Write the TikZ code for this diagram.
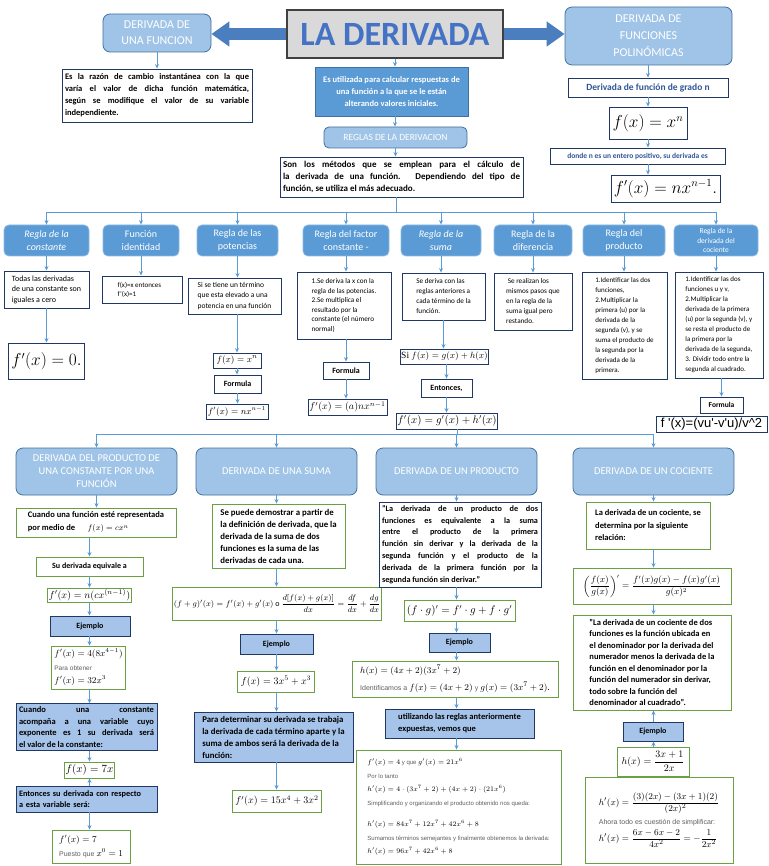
\documentclass[tikz,border=0pt]{standalone}
\usepackage{amsmath}
\usepackage[no-math]{fontspec}
\setmainfont{Carlito}
\newfontfamily\arialf{Liberation Sans}
\newfontfamily\timesf{Liberation Serif}
\usetikzlibrary{arrows.meta}

\definecolor{lblue}{RGB}{160,196,232}
\definecolor{lborder}{RGB}{65,113,156}
\definecolor{mblue}{RGB}{91,155,213}
\definecolor{navyline}{RGB}{32,56,100}
\definecolor{grn}{RGB}{106,160,66}
\definecolor{efill}{RGB}{166,196,234}
\definecolor{fatblue}{RGB}{74,126,191}
\definecolor{titleblue}{RGB}{68,114,196}
\definecolor{txtblue}{RGB}{47,85,151}
\definecolor{gtext}{RGB}{95,95,95}
\definecolor{tgray}{RGB}{217,217,217}

\newcommand{\grtext}[2]{{\arialf\color{gtext}\fontsize{#1}{#1}\selectfont #2}}

\begin{document}
\begin{tikzpicture}[x=1pt,y=-1pt,
    every node/.style={inner sep=3pt},
    >={Stealth[length=4.5pt,width=4pt]},
    conn/.style={color=mblue,line width=0.9pt},
    fat/.style={draw=fatblue,line width=12pt,-{Triangle[length=18pt,width=24pt]}},
    lightbox/.style={rounded corners=7pt,fill=lblue,draw=lborder,line width=0.8pt,text=white,align=center},
    rulebox/.style={rounded corners=5pt,fill=mblue,draw=mblue!70!white,line width=0.8pt,text=white,align=center,minimum height=31pt},
    navybox/.style={draw=navyline,line width=0.9pt,fill=white},
    greenbox/.style={draw=grn,line width=0.9pt,fill=white},
    bluebox/.style={draw=navyline,line width=0.9pt,fill=efill},
    exbox/.style={bluebox,font=\fontsize{8}{10}\selectfont\bfseries}]
\useasboundingbox (0,0) rectangle (768,866);

% top row
\node[lightbox,minimum width=108pt,minimum height=38pt,font=\fontsize{12}{16}\selectfont] (fun) at (157,33) {DERIVADA DE\\UNA FUNCION};
\node[draw=black!75,line width=1.2pt,fill=tgray,minimum width=216pt,minimum height=48pt,text=titleblue,font=\fontsize{34}{34}\selectfont\bfseries] (title) at (395,34) {LA DERIVADA};
\node[lightbox,minimum width=167pt,minimum height=58pt,font=\fontsize{12}{17}\selectfont] (pol) at (648.5,36) {DERIVADA DE\\FUNCIONES\\POLINÓMICAS};
\draw[fat] (title.west) -- (title.west -| fun.east);
\draw[fat] (title.east) -- (title.east -| pol.west);

\node[navybox,text width=184pt,minimum height=53pt,align=justify,font=\fontsize{8.5}{12}\selectfont\bfseries] (razon) at (157,95.5) {Es la razón de cambio instantánea con la que\linebreak varía el valor de dicha función matemática,\linebreak según se modifique el valor de su variable\linebreak independiente.};
\node[fill=mblue,draw=lborder,line width=0.8pt,text=white,align=center,minimum width=153pt,minimum height=49pt,font=\fontsize{8.5}{12}\selectfont\bfseries] (use) at (391.5,91.5) {Es utilizada para calcular respuestas de\\una función a la que se le están\\alterando valores iniciales.};
\node[lightbox,rounded corners=5pt,minimum width=143pt,minimum height=21pt,font=\fontsize{9.5}{11}\selectfont] (reglas) at (395.5,137.5) {REGLAS DE LA DERIVACION};
\node[navybox,text width=237pt,minimum height=40pt,align=justify,font=\fontsize{9}{12}\selectfont\bfseries] (metodos) at (401.5,177) {Son los métodos que se emplean para el cálculo de\linebreak la derivada de una función. Dependiendo del tipo de\linebreak función, se utiliza el más adecuado.};

% polinomicas
\node[navybox,minimum width=160pt,minimum height=19pt,text=txtblue,font=\fontsize{9.5}{11}\selectfont\bfseries] (grado) at (648,87.5) {Derivada de función de grado n};
\node[navybox,minimum width=78pt,minimum height=32pt,font=\fontsize{16}{18}\selectfont] (fxn) at (648,123) {$f(x)=x^n$};
\node[navybox,minimum width=175pt,minimum height=16pt,inner sep=1pt,text=txtblue,font=\fontsize{7.5}{9}\selectfont\bfseries] (donde) at (637.5,156) {donde n es un entero positivo, su derivada es};
\node[navybox,minimum width=109pt,minimum height=27pt,font=\fontsize{16}{18}\selectfont] (fpn) at (665.5,188.5) {$f'(x)=nx^{n-1}.$};

% reglas
\node[rulebox,minimum width=85pt,font=\fontsize{10}{13}\selectfont\itshape] (r1) at (46.5,240.5) {Regla de la\\constante};
\node[rulebox,minimum width=76pt,font=\fontsize{10}{13}\selectfont] (r2) at (141,240.5) {Función\\identidad};
\node[rulebox,minimum width=81pt,font=\fontsize{10}{13}\selectfont] (r3) at (237.5,240.5) {Regla de las\\potencias};
\node[rulebox,minimum width=86pt,font=\fontsize{10}{13}\selectfont] (r4) at (346,240.5) {Regla del factor\\constante -};
\node[rulebox,minimum width=80pt,font=\fontsize{10}{13}\selectfont\itshape] (r5) at (441,240.5) {Regla de la\\suma};
\node[rulebox,minimum width=78pt,font=\fontsize{10}{13}\selectfont] (r6) at (533,240.5) {Regla de la\\diferencia};
\node[rulebox,minimum width=82pt,font=\fontsize{10}{13}\selectfont] (r7) at (624,240.5) {Regla del\\producto};
\node[rulebox,minimum width=84pt,inner sep=1pt,font=\fontsize{7.5}{9.5}\selectfont] (r8) at (716,240.5) {Regla de la\\derivada del\\cociente};

\node[navybox,align=left,minimum width=85pt,minimum height=37pt,font=\fontsize{8}{10.5}\selectfont] (d1) at (46.5,289.5) {Todas las derivadas\\de una constante son\\iguales a cero};
\node[navybox,minimum width=73pt,minimum height=36pt,font=\fontsize{16}{18}\selectfont] (d1f) at (46.5,361) {$f'(x)=0.$};
\node[navybox,align=left,minimum width=80pt,minimum height=27pt,font=\fontsize{7}{9}\selectfont] (d2) at (142,289.5) {f(x)=x entonces\\f'(x)=1\hspace*{30pt}};
\node[navybox,align=left,minimum width=93pt,minimum height=36pt,font=\fontsize{7.5}{10.5}\selectfont] (d3) at (234.5,296) {Si se tiene un término\\que esta elevado a una\\potencia en una función};
\node[navybox,minimum width=48pt,minimum height=15pt,inner sep=1pt,font=\fontsize{9.5}{11}\selectfont] (d3a) at (237,360.5) {$f(x)=x^n$};
\node[navybox,minimum width=47pt,minimum height=18pt,font=\fontsize{8}{10}\selectfont\bfseries] (d3b) at (237.5,384) {Formula};
\node[navybox,minimum width=62pt,minimum height=15pt,inner sep=1pt,font=\fontsize{9}{11}\selectfont] (d3c) at (237,411.5) {$f'(x)=nx^{n-1}$};
\node[navybox,align=left,minimum width=94pt,minimum height=67pt,font=\fontsize{7.2}{9.5}\selectfont] (d4) at (344,305.5) {1.Se deriva la x con la\\regla de las potencias.\\2.Se multiplica el\\resultado por la\\constante (el número\\normal)};
\node[navybox,minimum width=46pt,minimum height=17pt,font=\fontsize{8}{10}\selectfont\bfseries] (d4a) at (346,370.5) {Formula};
\node[navybox,minimum width=79pt,minimum height=16pt,inner sep=1pt,font=\fontsize{10}{12}\selectfont] (d4b) at (347.5,407) {$f'(x)=(a)nx^{n-1}$};
\node[navybox,align=left,minimum width=83pt,minimum height=47pt,font=\fontsize{7.2}{10}\selectfont] (d5) at (443.5,296.5) {Se deriva con las\\reglas anteriores a\\cada término de la\\función.};
\node[navybox,minimum width=85pt,minimum height=15pt,inner sep=1pt,font=\fontsize{9.5}{11}\selectfont] (d5a) at (444.5,356.5) {{\timesf Si} $f(x)=g(x)+h(x)$};
\node[navybox,minimum width=51pt,minimum height=18pt,font=\fontsize{8}{10}\selectfont\bfseries] (d5b) at (446.5,388) {Entonces,};
\node[navybox,minimum width=94pt,minimum height=16pt,inner sep=1pt,font=\fontsize{10.5}{12}\selectfont] (d5c) at (447,421) {$f'(x)=g'(x)+h'(x)$};
\node[navybox,align=left,minimum width=78pt,minimum height=57pt,font=\fontsize{7.2}{10}\selectfont] (d6) at (533,301.5) {\ Se realizan los\\mismos pasos que\\en la regla de la\\suma igual pero\\restando.};
\node[navybox,align=left,minimum width=85pt,minimum height=107pt,font=\fontsize{7}{10}\selectfont] (d7) at (624.5,325.5) {1.Identificar las dos\\funciones,\\2.Multiplicar la\\primera (u) por la\\derivada de la\\segunda (v), y se\\suma el producto de\\la segunda por la\\derivada de la\\primera.};
\node[navybox,align=left,minimum width=88pt,minimum height=106pt,font=\fontsize{7}{10}\selectfont] (d8) at (719,325) {1.Identificar las dos\\funciones u y v,\\2.Multiplicar la\\derivada de la primera\\(u) por la segunda (v), y\\se resta el producto de\\la primera por la\\derivada de la segunda,\\3. Dividir todo entre la\\segunda al cuadrado.};
\node[navybox,minimum width=43pt,minimum height=16pt,inner sep=1pt,font=\fontsize{7.5}{9}\selectfont\bfseries] (d8a) at (721.5,405) {Formula};
\node[navybox,minimum width=111pt,minimum height=16pt,inner sep=1pt,font=\arialf\fontsize{13}{14}\selectfont] (d8b) at (711.5,424) {f \textquotesingle(x)=(vu\textquotesingle-v\textquotesingle u)/v\textasciicircum 2};

% derivadas
\node[lightbox,minimum width=161pt,minimum height=47pt,font=\fontsize{10.5}{13}\selectfont] (sA) at (96.5,471.5) {DERIVADA DEL PRODUCTO DE\\UNA CONSTANTE POR UNA\\FUNCIÓN};
\node[lightbox,minimum width=161pt,minimum height=47pt,font=\fontsize{10.5}{13}\selectfont] (sB) at (276.5,471.5) {DERIVADA DE UNA SUMA};
\node[lightbox,minimum width=161pt,minimum height=47pt,font=\fontsize{10.5}{13}\selectfont] (sC) at (456.5,471.5) {DERIVADA DE UN PRODUCTO};
\node[lightbox,minimum width=161pt,minimum height=47pt,font=\fontsize{10.5}{13}\selectfont] (sD) at (653.5,471.5) {DERIVADA DE UN COCIENTE};

% producto de una constante
\node[greenbox,align=left,minimum width=160pt,minimum height=29pt,font=\fontsize{8.5}{13}\selectfont\bfseries] (a1) at (96,522.5) {Cuando una función esté representada\\por medio de \quad\ $f(x)=cx^n$};
\node[greenbox,minimum width=107pt,minimum height=19pt,font=\fontsize{8}{10}\selectfont\bfseries] (a2) at (89.5,566.5) {Su derivada equivale a};
\node[greenbox,minimum width=83pt,minimum height=14pt,inner sep=1pt,font=\fontsize{10}{12}\selectfont] (a3) at (89.5,595) {$f'(x)=n(cx^{(n-1)})$};
\node[exbox,minimum width=80pt,minimum height=20pt] (a4) at (90,626) {Ejemplo};
\node[greenbox,align=left,minimum width=73pt,minimum height=43pt,font=\fontsize{9}{13.5}\selectfont] (a5) at (88.5,667.5) {$f'(x)=4(8x^{4-1})$\\\grtext{6.5}{Para obtener}\\$f'(x)=32x^3$};
\node[bluebox,text width=135pt,minimum height=46pt,align=justify,font=\fontsize{8.5}{11.5}\selectfont\bfseries] (a6) at (86.5,727) {Cuando una constante\linebreak acompaña a una variable cuyo\linebreak exponente es 1 su derivada será\linebreak el valor de la constante:};
\node[greenbox,minimum width=47pt,minimum height=16pt,inner sep=1pt,font=\fontsize{11}{12}\selectfont] (a7) at (89.5,770) {$f(x)=7x$};
\node[bluebox,text width=135pt,minimum height=26pt,align=left,font=\fontsize{8.3}{11.5}\selectfont\bfseries] (a8) at (86.5,799) {Entonces su derivada con respecto\\a esta variable será:};
\node[greenbox,align=left,minimum width=78pt,minimum height=33pt,font=\fontsize{9}{14}\selectfont] (a9) at (91,846.5) {$f'(x)=7$\\\grtext{7}{Puesto que} $x^0=1$};

% suma
\node[greenbox,align=left,minimum width=133pt,minimum height=64pt,font=\fontsize{8.8}{12}\selectfont\bfseries] (b1) at (278.5,536) {Se puede demostrar a partir de\\la definición de derivada, que la\\derivada de la suma de dos\\funciones es la suma de las\\derivadas de cada una.};
\node[greenbox,minimum width=198pt,minimum height=33pt,inner sep=1pt,font=\fontsize{8}{10}\selectfont] (b2) at (277,603.5) {$(f+g)'(x)=f'(x)+g'(x)$ o $\dfrac{d[f(x)+g(x)]}{dx}=\dfrac{df}{dx}+\dfrac{dg}{dx}$};
\node[exbox,minimum width=73pt,minimum height=20pt] (b3) at (276.5,644) {Ejemplo};
\node[greenbox,minimum width=74pt,minimum height=21pt,font=\fontsize{10}{12}\selectfont] (b4) at (276,681.5) {$f(x)=3x^5+x^3$};
\node[bluebox,align=left,minimum width=159pt,minimum height=50pt,font=\fontsize{8.8}{12}\selectfont\bfseries] (b5) at (273.5,737) {Para determinar su derivada se trabaja\\la derivada de cada término aparte y la\\suma de ambos será la derivada de la\\función:\hspace*{110pt}};
\node[greenbox,minimum width=84pt,minimum height=22pt,font=\fontsize{10}{12}\selectfont] (b6) at (277,801) {$f'(x)=15x^4+3x^2$};

% producto
\node[navybox,text width=156pt,minimum height=85pt,align=justify,font=\fontsize{8.2}{11.8}\selectfont\bfseries] (c1) at (460,544.5) {"La derivada de un producto de dos\linebreak funciones es equivalente a la suma\linebreak entre el producto de la primera\linebreak función sin derivar y la derivada de la\linebreak segunda función y el producto de la\linebreak derivada de la primera función por la\linebreak segunda función sin derivar."};
\node[greenbox,minimum width=101pt,minimum height=21pt,font=\fontsize{10.5}{12}\selectfont] (c2) at (459.5,610.5) {$(f\cdot g)'=f'\cdot g+f\cdot g'$};
\node[exbox,minimum width=61pt,minimum height=19pt] (c3) at (459.5,642.5) {Ejemplo};
\node[greenbox,align=left,minimum width=206pt,minimum height=36pt,font=\fontsize{9.5}{17}\selectfont] (c4) at (455,679) {$h(x)=(4x+2)(3x^7+2)$\\\grtext{7}{Identificamos a} $f(x)=(4x+2)$ \grtext{7}{y} $g(x)=(3x^7+2)$.};
\node[bluebox,align=left,minimum width=149pt,minimum height=29pt,font=\fontsize{8.5}{12}\selectfont\bfseries] (c5) at (459.5,723.5) {utilizando las reglas anteriormente\\expuestas, vemos que};
\node[greenbox,align=left,minimum width=205pt,minimum height=114pt,font=\fontsize{7}{13.5}\selectfont] (c6) at (458.5,807) {$f'(x)=4$ \grtext{6}{y que} $g'(x)=21x^6$\\\grtext{6}{Por lo tanto}\\$h'(x)=4\cdot(3x^7+2)+(4x+2)\cdot(21x^6)$\\\grtext{6}{Simplificando y organizando el producto obtenido nos queda:}\\[8pt]$h'(x)=84x^7+12x^7+42x^6+8$\\\grtext{6}{Sumamos términos semejantes y finalmente obtenemos la derivada:}\\$h'(x)=96x^7+42x^6+8$};

% cociente
\node[greenbox,align=left,minimum width=124pt,minimum height=47pt,font=\fontsize{8.5}{12.5}\selectfont\bfseries] (e1) at (648,525.5) {La derivada de un cociente, se\\determina por la siguiente\\relación:};
\node[greenbox,minimum width=158pt,minimum height=36pt,inner sep=1pt,font=\fontsize{9}{11}\selectfont] (e2) at (652,586) {$\left(\dfrac{f(x)}{g(x)}\right)'=\dfrac{f'(x)g(x)-f(x)g'(x)}{g(x)^2}$};
\node[greenbox,align=left,minimum width=158pt,minimum height=95pt,font=\fontsize{8.5}{11.5}\selectfont\bfseries] (e3) at (652,662.5) {"La derivada de un cociente de dos\\funciones es la función ubicada en\\el denominador por la derivada del\\numerador menos la derivada de la\\función en el denominador por la\\función del numerador sin derivar,\\todo sobre la función del\\denominador al cuadrado".};
\node[exbox,minimum width=60pt,minimum height=19pt] (e4) at (653,731.5) {Ejemplo};
\node[greenbox,minimum width=72pt,minimum height=29pt,inner sep=1pt,font=\fontsize{10}{12}\selectfont] (e5) at (653,761.5) {$h(x)=\dfrac{3x+1}{2x}$};
\node[greenbox,align=left,minimum width=148pt,minimum height=86pt,inner sep=2pt,font=\fontsize{9.5}{12}\selectfont] (e6) at (659,820) {$h'(x)=\dfrac{(3)(2x)-(3x+1)(2)}{(2x)^2}$\\[5pt]\grtext{7}{Ahora todo es cuestión de simplificar:}\\[2pt]$h'(x)=\dfrac{6x-6x-2}{4x^2}=-\dfrac{1}{2x^2}$};

% connectors, top
\path [conn,->] (fun) edge (razon);
\path [conn,->] (title.south) edge (title.south |- use.north);
\path [conn,->] (use.south -| title) edge (title |- reglas.north);
\path [conn,->] (reglas.south) edge (reglas.south |- metodos.north);
\path [conn,->] (pol.south -| fxn) edge (fxn |- grado.north);
\path [conn,->] (grado.south -| fxn) edge (fxn |- fxn.north);
\path [conn,->] (fxn.south) edge (fxn.south |- donde.north);
\path [conn,->] (donde.south -| fxn) edge (fxn |- fpn.north);

% connectors, rules
\coordinate (bus1) at (396,212);
\draw [conn] (metodos.south -| bus1) -- (bus1);
\draw [conn] (r1.north |- bus1) -- (r8.north |- bus1);
\path [conn,->] (r1.north |- bus1) edge (r1.north);
\path [conn,->] (r2.north |- bus1) edge (r2.north);
\path [conn,->] (r3.north |- bus1) edge (r3.north);
\path [conn,->] (r4.north |- bus1) edge (r4.north);
\path [conn,->] (r5.north |- bus1) edge (r5.north);
\path [conn,->] (r6.north |- bus1) edge (r6.north);
\path [conn,->] (r7.north |- bus1) edge (r7.north);
\path [conn,->] (r8.north |- bus1) edge (r8.north);
\path [conn,->] (r1.south) edge (r1.south |- d1.north);
\path [conn,->] (r2.south) edge (r2.south |- d2.north);
\path [conn,->] (r3.south) edge (r3.south |- d3.north);
\path [conn,->] (r4.south) edge (r4.south |- d4.north);
\path [conn,->] (r5.south) edge (r5.south |- d5.north);
\path [conn,->] (r6.south) edge (r6.south |- d6.north);
\path [conn,->] (r7.south) edge (r7.south |- d7.north);
\path [conn,->] (r8.south) edge (r8.south |- d8.north);
\path [conn,->] (d1.south) edge (d1.south |- d1f.north);
\path [conn,->] (d3.south -| d3a) edge (d3a.north);
\path [conn,->] (d3a.south) edge (d3a.south |- d3b.north);
\path [conn,->] (d3b.south) edge (d3b.south |- d3c.north);
\path [conn,->] (d4.south -| d4a) edge (d4a.north);
\path [conn,->] (d4a.south) edge (d4a.south |- d4b.north);
\path [conn,->] (d5.south) edge (d5.south |- d5a.north);
\path [conn,->] (d5a.south -| d5b) edge (d5b.north);
\path [conn,->] (d5b.south) edge (d5b.south |- d5c.north);
\path [conn,->] (d8.south -| d8a) edge (d8a.north);

% connectors, derivadas
\coordinate (bus2) at (457,434);
\draw [conn] (d5c.south -| bus2) -- (bus2);
\draw [conn] (sA.north |- bus2) -- (sD.north |- bus2);
\path [conn,->] (sA.north |- bus2) edge (sA.north);
\path [conn,->] (sB.north |- bus2) edge (sB.north);
\path [conn,->] (sC.north |- bus2) edge (sC.north);
\path [conn,->] (sD.north |- bus2) edge (sD.north);

\path [conn,->] (sA.south) edge (sA.south |- a1.north);
\path [conn,->] (a1.south -| a2) edge (a2.north);
\path [conn,->] (a2.south) edge (a2.south |- a3.north);
\path [conn,->] (a3.south -| a2) edge (a2 |- a4.north);
\path [conn,->] (a4.south -| a2) edge (a2 |- a5.north);
\path [conn,->] (a5.south -| a2) edge (a2 |- a6.north);
\path [conn,->] (a6.south -| a2) edge (a2 |- a7.north);
\path [conn,->] (a8.north -| a2) edge (a2 |- a7.south);
\path [conn,->] (a8.south -| a2) edge (a2 |- a9.north);

\path [conn,->] (sB.south) edge (sB.south |- b1.north);
\path [conn,->] (b1.south -| sB) edge (sB |- b2.north);
\path [conn,->] (b2.south -| sB) edge (sB |- b3.north);
\path [conn,->] (b3.south -| sB) edge (sB |- b4.north);
\path [conn,->] (b4.south -| sB) edge (sB |- b5.north);
\path [conn,->] (b5.south -| sB) edge (sB |- b6.north);

\path [conn,->] (sC.south) edge (sC.south |- c1.north);
\path [conn,->] (c1.south -| sC) edge (sC |- c2.north);
\path [conn,->] (c2.south -| sC) edge (sC |- c3.north);
\path [conn,->] (c3.south -| sC) edge (sC |- c4.north);
\path [conn,->] (c4.south -| sC) edge (sC |- c5.north);
\path [conn,->] (c5.south -| sC) edge (sC |- c6.north);

\path [conn,->] (sD.south) edge (sD.south |- e1.north);
\path [conn,->] (e1.south -| sD) edge (sD |- e2.north);
\path [conn,->] (e2.south -| sD) edge (sD |- e3.north);
\path [conn,->] (e4.north -| sD) edge (sD |- e3.south);
\path [conn,->] (e5.north -| sD) edge (sD |- e4.south);
\end{tikzpicture}
\end{document}
